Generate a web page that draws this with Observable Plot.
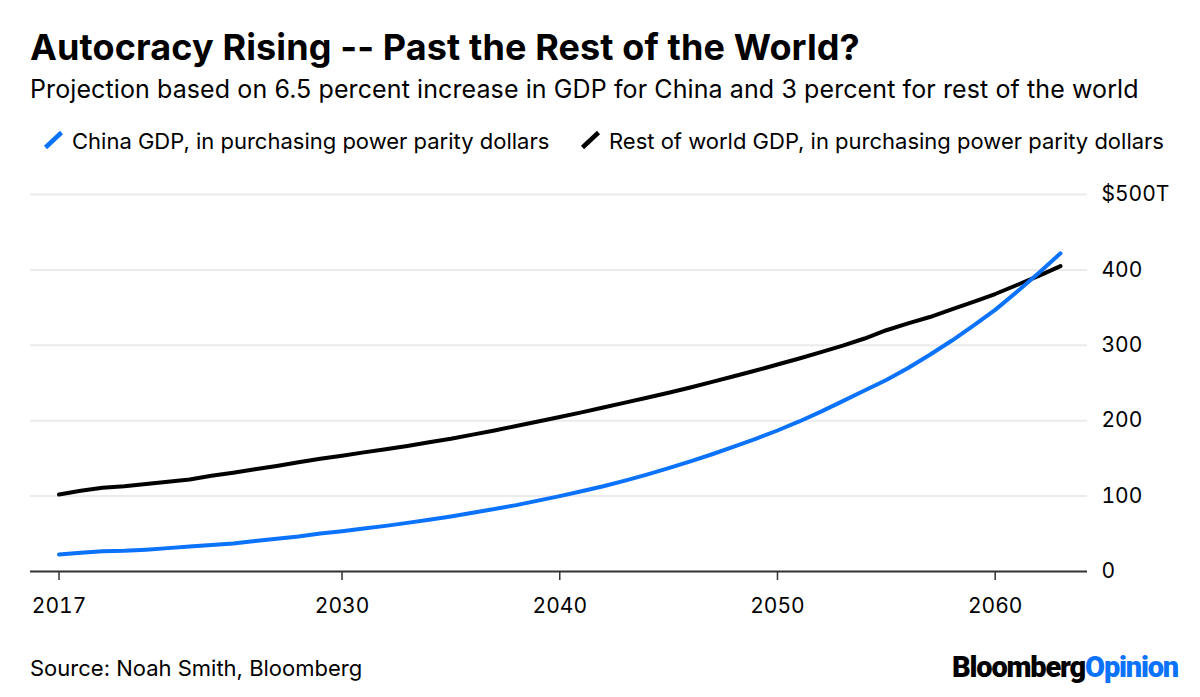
<!DOCTYPE html>
<html>
<head>
<meta charset="utf-8">
<script src="https://cdn.jsdelivr.net/npm/d3@7"></script>
<script src="https://cdn.jsdelivr.net/npm/@observablehq/plot@0.6"></script>
<style>
  body { margin: 0; background: #fff; color: #000; font-family: Inter, Roboto, sans-serif; }
  #wrap { position: relative; width: 1200px; height: 697px; overflow: hidden; }
  .abs { position: absolute; white-space: nowrap; line-height: 1; }
  #title { left: 30px; top: 29px; font-size: 36px; font-weight: 700; letter-spacing: 0.12px; }
  #subtitle { left: 30px; top: 77px; font-size: 25px; letter-spacing: 0.1px; }
  .legend-text { top: 130px; font-size: 22px; }
  .legend-icon { top: 130px; }
  #chart { position: absolute; left: 0; top: 170px; }
  #source { left: 30px; top: 657px; font-size: 22px; }
  #logo { right: 22px; top: 653px; font-family: Roboto, sans-serif; font-size: 29px; font-weight: 900; letter-spacing: -1.2px; }
  #logo span { color: #0b72fb; }
</style>
</head>
<body>
<div id="wrap">
  <div id="title" class="abs">Autocracy Rising -- Past the Rest of the World?</div>
  <div id="subtitle" class="abs">Projection based on 6.5 percent increase in GDP for China and 3 percent for rest of the world</div>
  <div id="legend"></div>
  <div id="chart"></div>
  <div id="source" class="abs">Source: Noah Smith, Bloomberg</div>
  <div id="logo" class="abs">Bloomberg<span>Opinion</span></div>
</div>
<script>
// Projection years
const years = [
  2017, 2018, 2019, 2020, 2021, 2022, 2023, 2024, 2025, 2026,
  2027, 2028, 2029, 2030, 2031, 2032, 2033, 2034, 2035, 2036,
  2037, 2038, 2039, 2040, 2041, 2042, 2043, 2044, 2045, 2046,
  2047, 2048, 2049, 2050, 2051, 2052, 2053, 2054, 2055, 2056,
  2057, 2058, 2059, 2060, 2061, 2062, 2063
];

// China GDP, trillions of PPP dollars
const chinaGDP = [
  22.5, 25, 27, 27.5, 29, 31, 33, 35, 37, 40.5,
  43.5, 46.5, 50.5, 53.5, 57, 60.5, 64.5, 68.5, 73, 78,
  83, 88, 94, 100, 106.5, 113, 120.5, 128.5, 137, 146,
  155.5, 165.5, 176, 187, 199, 212, 226, 240, 254, 270,
  287.5, 306, 326, 347, 371, 396, 422
];

// Rest of world GDP, trillions of PPP dollars
const restGDP = [
  102, 107, 111, 113, 116, 119, 122, 127, 131, 135.5,
  140, 145, 149.5, 153.5, 158, 162, 166.5, 171.5, 176, 181.5,
  187, 193, 199, 205, 211, 217.5, 224, 230.5, 237, 244,
  251.5, 259, 266.5, 274.5, 282.5, 291, 299.5, 309, 320, 329,
  337.5, 347.5, 357.5, 368, 380, 392, 405
];

const xTicks = [2017, 2030, 2040, 2050, 2060];
const yTicks = [0, 100, 200, 300, 400, 500];

const seriesNames = [
  "China GDP, in purchasing power parity dollars",
  "Rest of world GDP, in purchasing power parity dollars"
];
const seriesColors = ["#0b72fb", "#000000"];

const china = years.map((year, i) => ({year, value: chinaGDP[i]}));
const rest = years.map((year, i) => ({year, value: restGDP[i]}));

// Legend: slanted stroke swatch followed by the label
const iconLefts = [43, 580];
const textLefts = [72, 609];
const legend = document.getElementById("legend");
seriesNames.forEach((name, i) => {
  const icon = document.createElement("div");
  icon.className = "abs legend-icon";
  icon.style.left = iconLefts[i] + "px";
  icon.innerHTML = `<svg width="22" height="20" viewBox="0 0 22 20"><line x1="2.5" y1="17.5" x2="18.5" y2="2.5" stroke="${seriesColors[i]}" stroke-width="4.5"/></svg>`;
  legend.appendChild(icon);
  const text = document.createElement("div");
  text.className = "abs legend-text";
  text.style.left = textLefts[i] + "px";
  text.textContent = name;
  legend.appendChild(text);
});

const chart = Plot.plot({
  width: 1200,
  height: 460,
  marginTop: 24,
  marginBottom: 59,
  marginLeft: 30,
  marginRight: 113,
  style: {fontFamily: "Inter, Roboto, sans-serif", fontSize: "21px", color: "#000", background: "#fff"},
  x: {domain: [2015.69, 2064.24]},
  y: {domain: [0, 500]},
  marks: [
    Plot.ruleY(yTicks.filter(d => d > 0), {stroke: "#ebebeb", strokeWidth: 2}),
    Plot.ruleY([0], {stroke: "#333", strokeWidth: 2}),
    Plot.axisX({ticks: xTicks, tickFormat: d => String(d), tickSize: 9, tickPadding: 18, fontSize: 21, stroke: "#333", strokeWidth: 1.5, label: null}),
    Plot.axisY({anchor: "right", ticks: yTicks, tickSize: 0, tickPadding: 14, fontSize: 21, label: null,
      tickFormat: d => d === 500 ? "$500T" : String(d)}),
    Plot.line(rest, {x: "year", y: "value", stroke: seriesColors[1], strokeWidth: 4, strokeLinecap: "round", strokeLinejoin: "round"}),
    Plot.line(china, {x: "year", y: "value", stroke: seriesColors[0], strokeWidth: 4, strokeLinecap: "round", strokeLinejoin: "round"})
  ]
});
document.getElementById("chart").appendChild(chart);
</script>
</body>
</html>
